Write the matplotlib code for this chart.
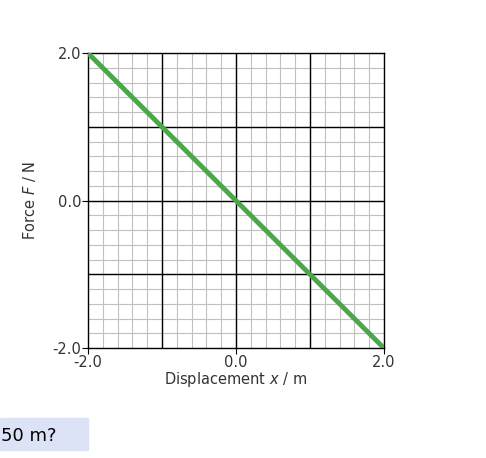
import matplotlib
matplotlib.use("Agg")
import matplotlib.pyplot as plt
import numpy as np
from matplotlib.patches import Rectangle

x_vals = [-2.0, 2.0]
f_vals = [2.0, -2.0]
tick_vals = [-2.0, 0.0, 2.0]
tick_labels = ["-2.0", "0.0", "2.0"]

fig = plt.figure(figsize=(4.86, 4.58), dpi=100)
ax = fig.add_axes([0.181, 0.240, 0.609, 0.644])
ax.set_xlim(-2, 2)
ax.set_ylim(-2, 2)
for v in np.arange(-2, 2.01, 0.2):
    ax.axvline(v, color="#c0c0c0", lw=0.8, zorder=1)
    ax.axhline(v, color="#c0c0c0", lw=0.8, zorder=1)
for v in [-1, 0, 1]:
    ax.axvline(v, color="black", lw=1.0, zorder=2)
    ax.axhline(v, color="black", lw=1.0, zorder=2)
ax.plot(x_vals, f_vals, color="#4ea64a", lw=3.5, zorder=3)
ax.set_xticks(tick_vals)
ax.set_xticklabels(tick_labels)
ax.set_yticks(tick_vals)
ax.set_yticklabels(tick_labels)
ax.tick_params(labelsize=10.5, length=4, pad=1, labelcolor="#333333")
for s in ax.spines.values():
    s.set_linewidth(1.0)
ax.set_xlabel("Displacement $\\it{x}$ / m", fontsize=10.5, labelpad=0, color="#333333")
ax.set_ylabel("Force $\\it{F}$ / N", fontsize=10.5, labelpad=10, color="#333333")

fig.patches.append(Rectangle((0, 1 - 450/458), 88/486, 32/458, transform=fig.transFigure,
                             color="#dde3f6", zorder=0))
fig.text(0.002, 1 - 436/458, "50 m?", fontsize=13, va="center", ha="left")
fig.savefig("out.png", dpi=100)
